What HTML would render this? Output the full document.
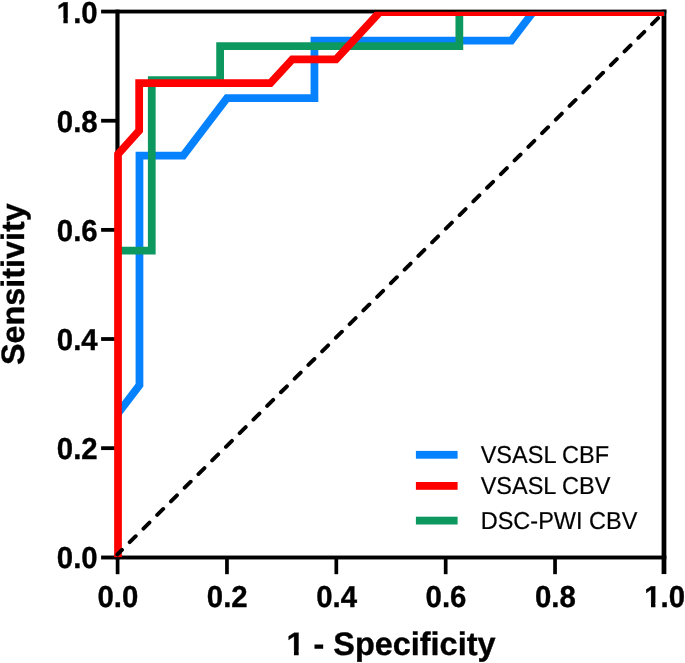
<!DOCTYPE html>
<html><head><meta charset="utf-8"><title>ROC</title>
<style>
html,body{margin:0;padding:0;background:#fff;}
svg{display:block;}
text{font-family:"Liberation Sans",sans-serif;fill:#000;text-rendering:geometricPrecision;}
.b{font-weight:700;stroke:#000;stroke-width:0.35px;}
.l{stroke:#000;stroke-width:0.2px;}
</style></head><body>
<svg width="685" height="663" viewBox="0 0 685 663">
<rect width="685" height="663" fill="#fff"/>
<defs><clipPath id="c"><rect x="0" y="11.75" width="664.7" height="545.65"/></clipPath></defs>
<g fill="#000">
<rect x="115.4" y="9.65" width="4.15" height="549.8"/>
<rect x="661.6" y="9.65" width="4.75" height="564.4"/>
<rect x="101.1" y="9.65" width="565.25" height="3.8"/>
<rect x="101.1" y="555.55" width="565.25" height="3.9"/>
<rect x="115.75" y="557" width="3.7" height="17.2"/>
<rect x="101.1" y="446.26" width="16" height="3.8"/>
<rect x="225.11" y="557" width="3.7" height="17.2"/>
<rect x="101.1" y="337.12" width="16" height="3.8"/>
<rect x="334.47" y="557" width="3.7" height="17.2"/>
<rect x="101.1" y="227.98" width="16" height="3.8"/>
<rect x="443.83" y="557" width="3.7" height="17.2"/>
<rect x="101.1" y="118.84" width="16" height="3.8"/>
<rect x="553.19" y="557" width="3.7" height="17.2"/>
</g>
<g fill="none" stroke-width="7.75" stroke-linejoin="miter" stroke-miterlimit="10" clip-path="url(#c)">
<polyline points="117.60,413.80 139.47,385.10 139.47,155.50 183.22,155.50 226.96,98.10 314.45,98.10 314.45,40.70 511.30,40.70 533.17,12.00 664.40,12.00" stroke="#0682ff"/>
<polyline points="117.60,250.57 151.77,250.57 151.77,80.16 220.12,80.16 220.12,46.08 459.35,46.08 459.35,12.00 664.40,12.00" stroke="#0d9860"/>
<polyline points="118.00,557.30 118.00,154.25 139.17,130.54 139.17,83.13 270.40,83.13 292.28,59.42 336.02,59.42 379.76,12.00 664.10,12.00" stroke="#ff0000"/>
</g>
<line x1="117.4" y1="554.4" x2="664.4" y2="11.9" stroke="#000" stroke-width="3.9" stroke-dasharray="8.5 10.86" stroke-dashoffset="2.05" stroke-linecap="round"/>
<text class="b" font-size="29.4" text-anchor="end" transform="translate(97.7,568.30) scale(1,1.03)">0.0</text>
<text class="b" font-size="29.4" text-anchor="end" transform="translate(97.7,459.16) scale(1,1.03)">0.2</text>
<text class="b" font-size="29.4" text-anchor="end" transform="translate(97.7,350.02) scale(1,1.03)">0.4</text>
<text class="b" font-size="29.4" text-anchor="end" transform="translate(97.7,240.88) scale(1,1.03)">0.6</text>
<text class="b" font-size="29.4" text-anchor="end" transform="translate(97.7,131.74) scale(1,1.03)">0.8</text>
<text class="b" font-size="29.4" text-anchor="end" transform="translate(97.7,22.60) scale(1,1.03)">1.0</text>
<text class="b" font-size="29.4" text-anchor="middle" transform="translate(117.90,606.8) scale(1,1.03)">0.0</text>
<text class="b" font-size="29.4" text-anchor="middle" transform="translate(227.26,606.8) scale(1,1.03)">0.2</text>
<text class="b" font-size="29.4" text-anchor="middle" transform="translate(336.62,606.8) scale(1,1.03)">0.4</text>
<text class="b" font-size="29.4" text-anchor="middle" transform="translate(445.98,606.8) scale(1,1.03)">0.6</text>
<text class="b" font-size="29.4" text-anchor="middle" transform="translate(555.34,606.8) scale(1,1.03)">0.8</text>
<text class="b" font-size="29.4" text-anchor="middle" transform="translate(664.70,606.8) scale(1,1.03)">1.0</text>
<text class="b" font-size="32.45" x="286.4" y="655.1">1 - Specificity</text>
<text class="b" font-size="32.35" text-anchor="middle" transform="translate(24.15,284.15) rotate(-90)">Sensitivity</text>
<g fill="#fff">
<rect x="57" y="18.0" width="6.40" height="6.40"/>
<rect x="67.76" y="18.0" width="6.24" height="6.40"/>
<rect x="644" y="602.8" width="7.00" height="6.40"/>
<rect x="655.4" y="602.8" width="5.60" height="6.40"/>
<rect x="287" y="650.6" width="6.97" height="6.60"/>
<rect x="298.68" y="650.6" width="6.82" height="6.60"/>
</g>
<rect x="415.9" y="450.90" width="41.7" height="7.8" fill="#0682ff"/>
<text class="l" font-size="23.5" transform="translate(480.7,463.35) scale(1,1.04)">VSASL CBF</text>
<rect x="415.9" y="482.00" width="41.7" height="7.8" fill="#ff0000"/>
<text class="l" font-size="23.5" transform="translate(480.65,493.95) scale(1,1.04)">VSASL CBV</text>
<rect x="415.9" y="516.70" width="41.7" height="7.8" fill="#0d9860"/>
<text class="l" font-size="23.5" transform="translate(480.7,528.65) scale(1,1.04)">DSC-PWI CBV</text>
</svg></body></html>
